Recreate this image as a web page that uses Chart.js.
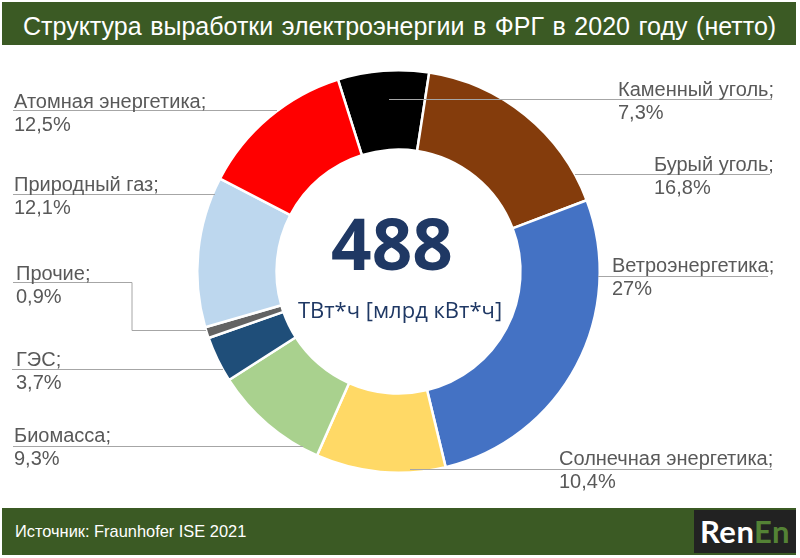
<!DOCTYPE html>
<html lang="ru">
<head>
<meta charset="utf-8">
<title>Структура выработки электроэнергии</title>
<script src="https://cdn.jsdelivr.net/npm/chart.js@4/dist/chart.umd.min.js"></script>
<style>
  html, body { margin: 0; padding: 0; background: #fff; }
  #page { position: relative; width: 800px; height: 558px; overflow: hidden; font-family: "Liberation Sans", Arial, sans-serif; }
  #chart { position: absolute; left: 0; top: 0; }
  .band { position: absolute; left: 2px; width: 794px; background: #3b5a24; }
  #top { top: 2px; height: 43px; }
  #bottom { top: 508px; height: 47px; }
  #title { position: absolute; left: 23px; top: 11px; font-size: 25px; line-height: 30px; color: #fff; white-space: nowrap; word-spacing: 1.6px; }
  #source { position: absolute; left: 15px; top: 521px; font-size: 16.4px; line-height: 20px; color: #fff; white-space: nowrap; }
  #logo { position: absolute; left: 694px; top: 510px; width: 102px; height: 43px; background: #222; color: #fff; font: 700 31px/43px Lato, sans-serif; letter-spacing: 0.5px; text-align: center; }
  #logo span { color: #548235; }
  .lbl { position: absolute; font-size: 20px; line-height: 23px; color: #595959; white-space: nowrap; }
  #total { position: absolute; left: 292px; width: 200px; top: 203px; text-align: center; font: 700 71px/80px "Open Sans", sans-serif; color: #1f3864; }
  #unit { position: absolute; left: 268px; width: 264px; top: 294px; text-align: center; font: 400 22px/30px "Open Sans", sans-serif; color: #1f3864; }
</style>
</head>
<body>
<div id="page">
  <canvas id="chart" width="800" height="558"></canvas>
  <div class="band" id="top"></div>
  <div class="band" id="bottom"></div>
  <div id="title">Структура выработки электроэнергии в ФРГ в 2020 году (нетто)</div>
  <div id="source">Источник: Fraunhofer ISE 2021</div>
  <div id="logo">Ren<span>En</span></div>
  <div id="total"></div>
  <div id="unit"></div>
</div>
<script>
const categories = ['Каменный уголь', 'Бурый уголь', 'Ветроэнергетика', 'Солнечная энергетика', 'Биомасса', 'ГЭС', 'Прочие', 'Природный газ', 'Атомная энергетика'];
const shares = [7.3, 16.8, 27, 10.4, 9.3, 3.7, 0.9, 12.1, 12.5];
const totalTwh = 488;
const unitText = 'ТВт*ч [млрд кВт*ч]';

const sliceColors = ['#000000', '#843c0c', '#4472c4', '#ffd966', '#a9d18e', '#1f4e79', '#636363', '#bdd7ee', '#ff0000'];

// где стоят подписи (x, верх текста) и как идут выноски
const labelBoxes = [[618, 78], [654, 153], [612, 254], [559, 447], [14, 424], [16, 348], [16, 262], [14, 173], [14, 90]];
const leaderPaths = [
    [[389, 99.5], [772, 99.5]],
    [[575, 174.5], [770, 174.5]],
    [[598, 276.5], [768, 276.5]],
    [[410, 469.5], [772, 469.5]],
    [[13, 446.5], [303, 446.5]],
    [[12, 369.5], [223, 369.5]],
    [[13, 282.5], [132, 282.5], [132, 330.5], [206, 330.5]],
    [[13, 194.5], [215, 194.5]],
    [[13, 110.5], [277, 110.5]]
];

const page = document.getElementById('page');
categories.forEach(function (name, i) {
    const el = document.createElement('div');
    el.className = 'lbl';
    el.style.left = labelBoxes[i][0] + 'px';
    el.style.top = labelBoxes[i][1] + 'px';
    el.innerHTML = name + ';<br>' + String(shares[i]).replace('.', ',') + '%';
    page.appendChild(el);
});
document.getElementById('total').textContent = totalTwh;
document.getElementById('unit').textContent = unitText;

const leaders = {
    id: 'leaders',
    afterDatasetsDraw(chart) {
        const ctx = chart.ctx;
        ctx.save();
        ctx.strokeStyle = '#a6a6a6';
        ctx.lineWidth = 1;
        leaderPaths.forEach(function (path) {
            ctx.beginPath();
            path.forEach(function (p, i) {
                if (i === 0) ctx.moveTo(p[0], p[1]);
                else ctx.lineTo(p[0], p[1]);
            });
            ctx.stroke();
        });
        ctx.restore();
    }
};

new Chart(document.getElementById('chart'), {
    type: 'doughnut',
    data: {
        labels: categories,
        datasets: [{
            data: shares,
            backgroundColor: sliceColors,
            borderColor: '#ffffff',
            borderWidth: 2.5,
            hoverOffset: 0
        }]
    },
    options: {
        responsive: false,
        animation: false,
        rotation: -17.5,
        cutout: '60.6%',
        layout: { padding: { left: 196, right: 199, top: 69, bottom: 84 } },
        plugins: { legend: { display: false }, tooltip: { enabled: false } }
    },
    plugins: [leaders]
});
</script>
</body>
</html>
